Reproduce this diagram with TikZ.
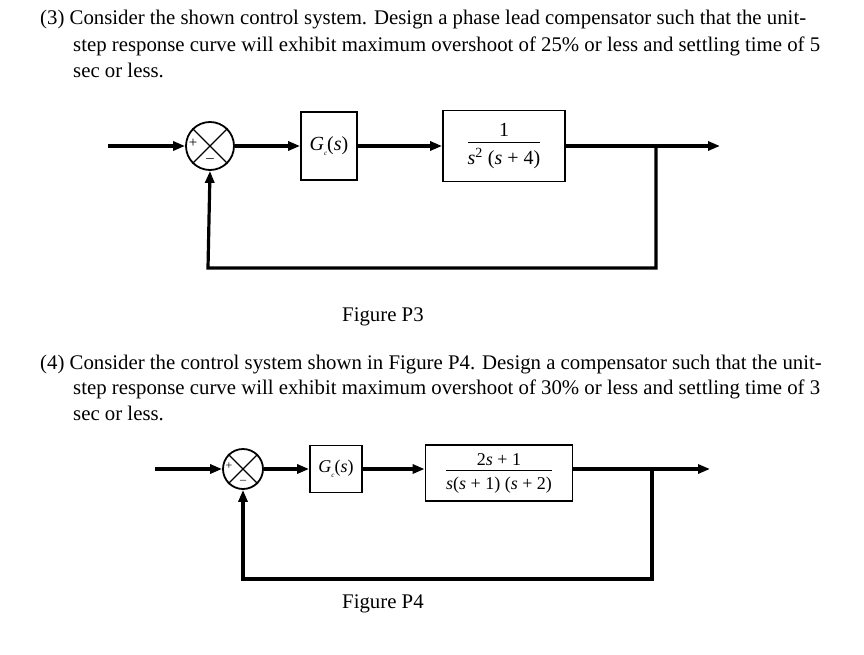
\documentclass[tikz,border=0pt]{standalone}
\usepackage{fontspec}
\setmainfont{Liberation Serif}
\usetikzlibrary{arrows.meta}
\newcommand{\mysub}[1]{\raisebox{-0.25em}{\scriptsize #1}}
\newcommand{\myfrac}[2]{\begin{tabular}{@{}c@{}}#1\\[-2pt]\hline\rule{0pt}{1.1em}#2\end{tabular}}
\begin{document}
\begin{tikzpicture}[x=1pt,y=-1pt,
  sig/.style={line width=3.2pt},
  arr/.style={sig,-{Triangle[length=12pt,width=9pt]}},
  blk/.style={draw,line width=1.8pt,inner sep=0pt},
  sum/.style={draw,circle,line width=1.8pt,minimum size=#1,inner sep=0pt},
  txt/.style={anchor=west,inner sep=0pt,font=\fontsize{20.8}{24}\selectfont},
  bt/.style={font=\fontsize{20}{24}\selectfont}]
\useasboundingbox (0,0) rectangle (864,655);
\node[txt] (t1) at (40,20) {(3) Consider the shown control system. Design a phase lead compensator such that the unit-};
\node[txt] (t2) at (73,46) {step response curve will exhibit maximum overshoot of 25\% or less and settling time of 5};
\node[txt] (t3) at (73,70) {sec or less.};
\node[txt] (f3) at (342,317) {Figure P3};
\node[txt] (t4) at (40,365) {(4) Consider the control system shown in Figure P4. Design a compensator such that the unit-};
\node[txt] (t5) at (73,389) {step response curve will exhibit maximum overshoot of 30\% or less and settling time of 3};
\node[txt] (t6) at (73,413) {sec or less.};
\node[txt] (f4) at (342,604) {Figure P4};
% diagram 1
\coordinate (in1) at (108,146);
\node[sum=48pt] (s1) at (210,146) {};
\draw[line width=1.4pt] (s1.north west)--(s1.south east) (s1.north east)--(s1.south west);
\node[font=\fontsize{15}{15}\selectfont] at (193,143) {+};
\node[font=\fontsize{15}{15}\selectfont] at (210,161) {--};
\node[blk,minimum width=56pt,minimum height=68pt,bt] (g1) at (329,146) {\textit{G}\mysub{\textit{c}}(\textit{s})};
\node[blk,minimum width=122pt,minimum height=71pt,bt] (p1) at (504,146) {\myfrac{1}{\textit{s}\textsuperscript{2} (\textit{s} + 4)}};
\coordinate (o1) at (720,146);
\coordinate (b1) at (656,146);
\coordinate (c1) at (656,268);
\coordinate (d1) at (208,268);
\draw[arr] (in1)--(s1);
\draw[arr] (s1)--(g1);
\draw[arr] (g1)--(p1);
\draw[arr] (p1)--(o1);
\draw[arr] (b1)--(c1)--(d1)--(s1.south);
% diagram 2
\coordinate (in2) at (155,469);
\node[sum=40pt] (s2) at (243,469) {};
\draw[line width=1.4pt] (s2.north west)--(s2.south east) (s2.north east)--(s2.south west);
\node[font=\fontsize{12}{12}\selectfont] at (229,466) {+};
\node[font=\fontsize{12}{12}\selectfont] at (243,482) {--};
\node[blk,minimum width=52pt,minimum height=47pt,font=\fontsize{18}{22}\selectfont] (g2) at (336,469) {\textit{G}\mysub{\textit{c}}(\textit{s})};
\node[blk,minimum width=147pt,minimum height=56pt,font=\fontsize{18}{22}\selectfont] (p2) at (499,473) {\myfrac{2\textit{s} + 1}{\textit{s}(\textit{s} + 1) (\textit{s} + 2)}};
\coordinate (o2) at (710,469);
\coordinate (b2) at (652,469);
\coordinate (c2) at (652,579);
\coordinate (d2) at (243,579);
\draw[arr] (in2)--(s2);
\draw[arr] (s2)--(g2);
\draw[arr] (g2)--(p2.west|-g2);
\draw[arr] (p2.east|-o2)--(o2);
\draw[arr] (b2)--(c2)--(d2)--(s2.south);
\end{tikzpicture}
\end{document}
